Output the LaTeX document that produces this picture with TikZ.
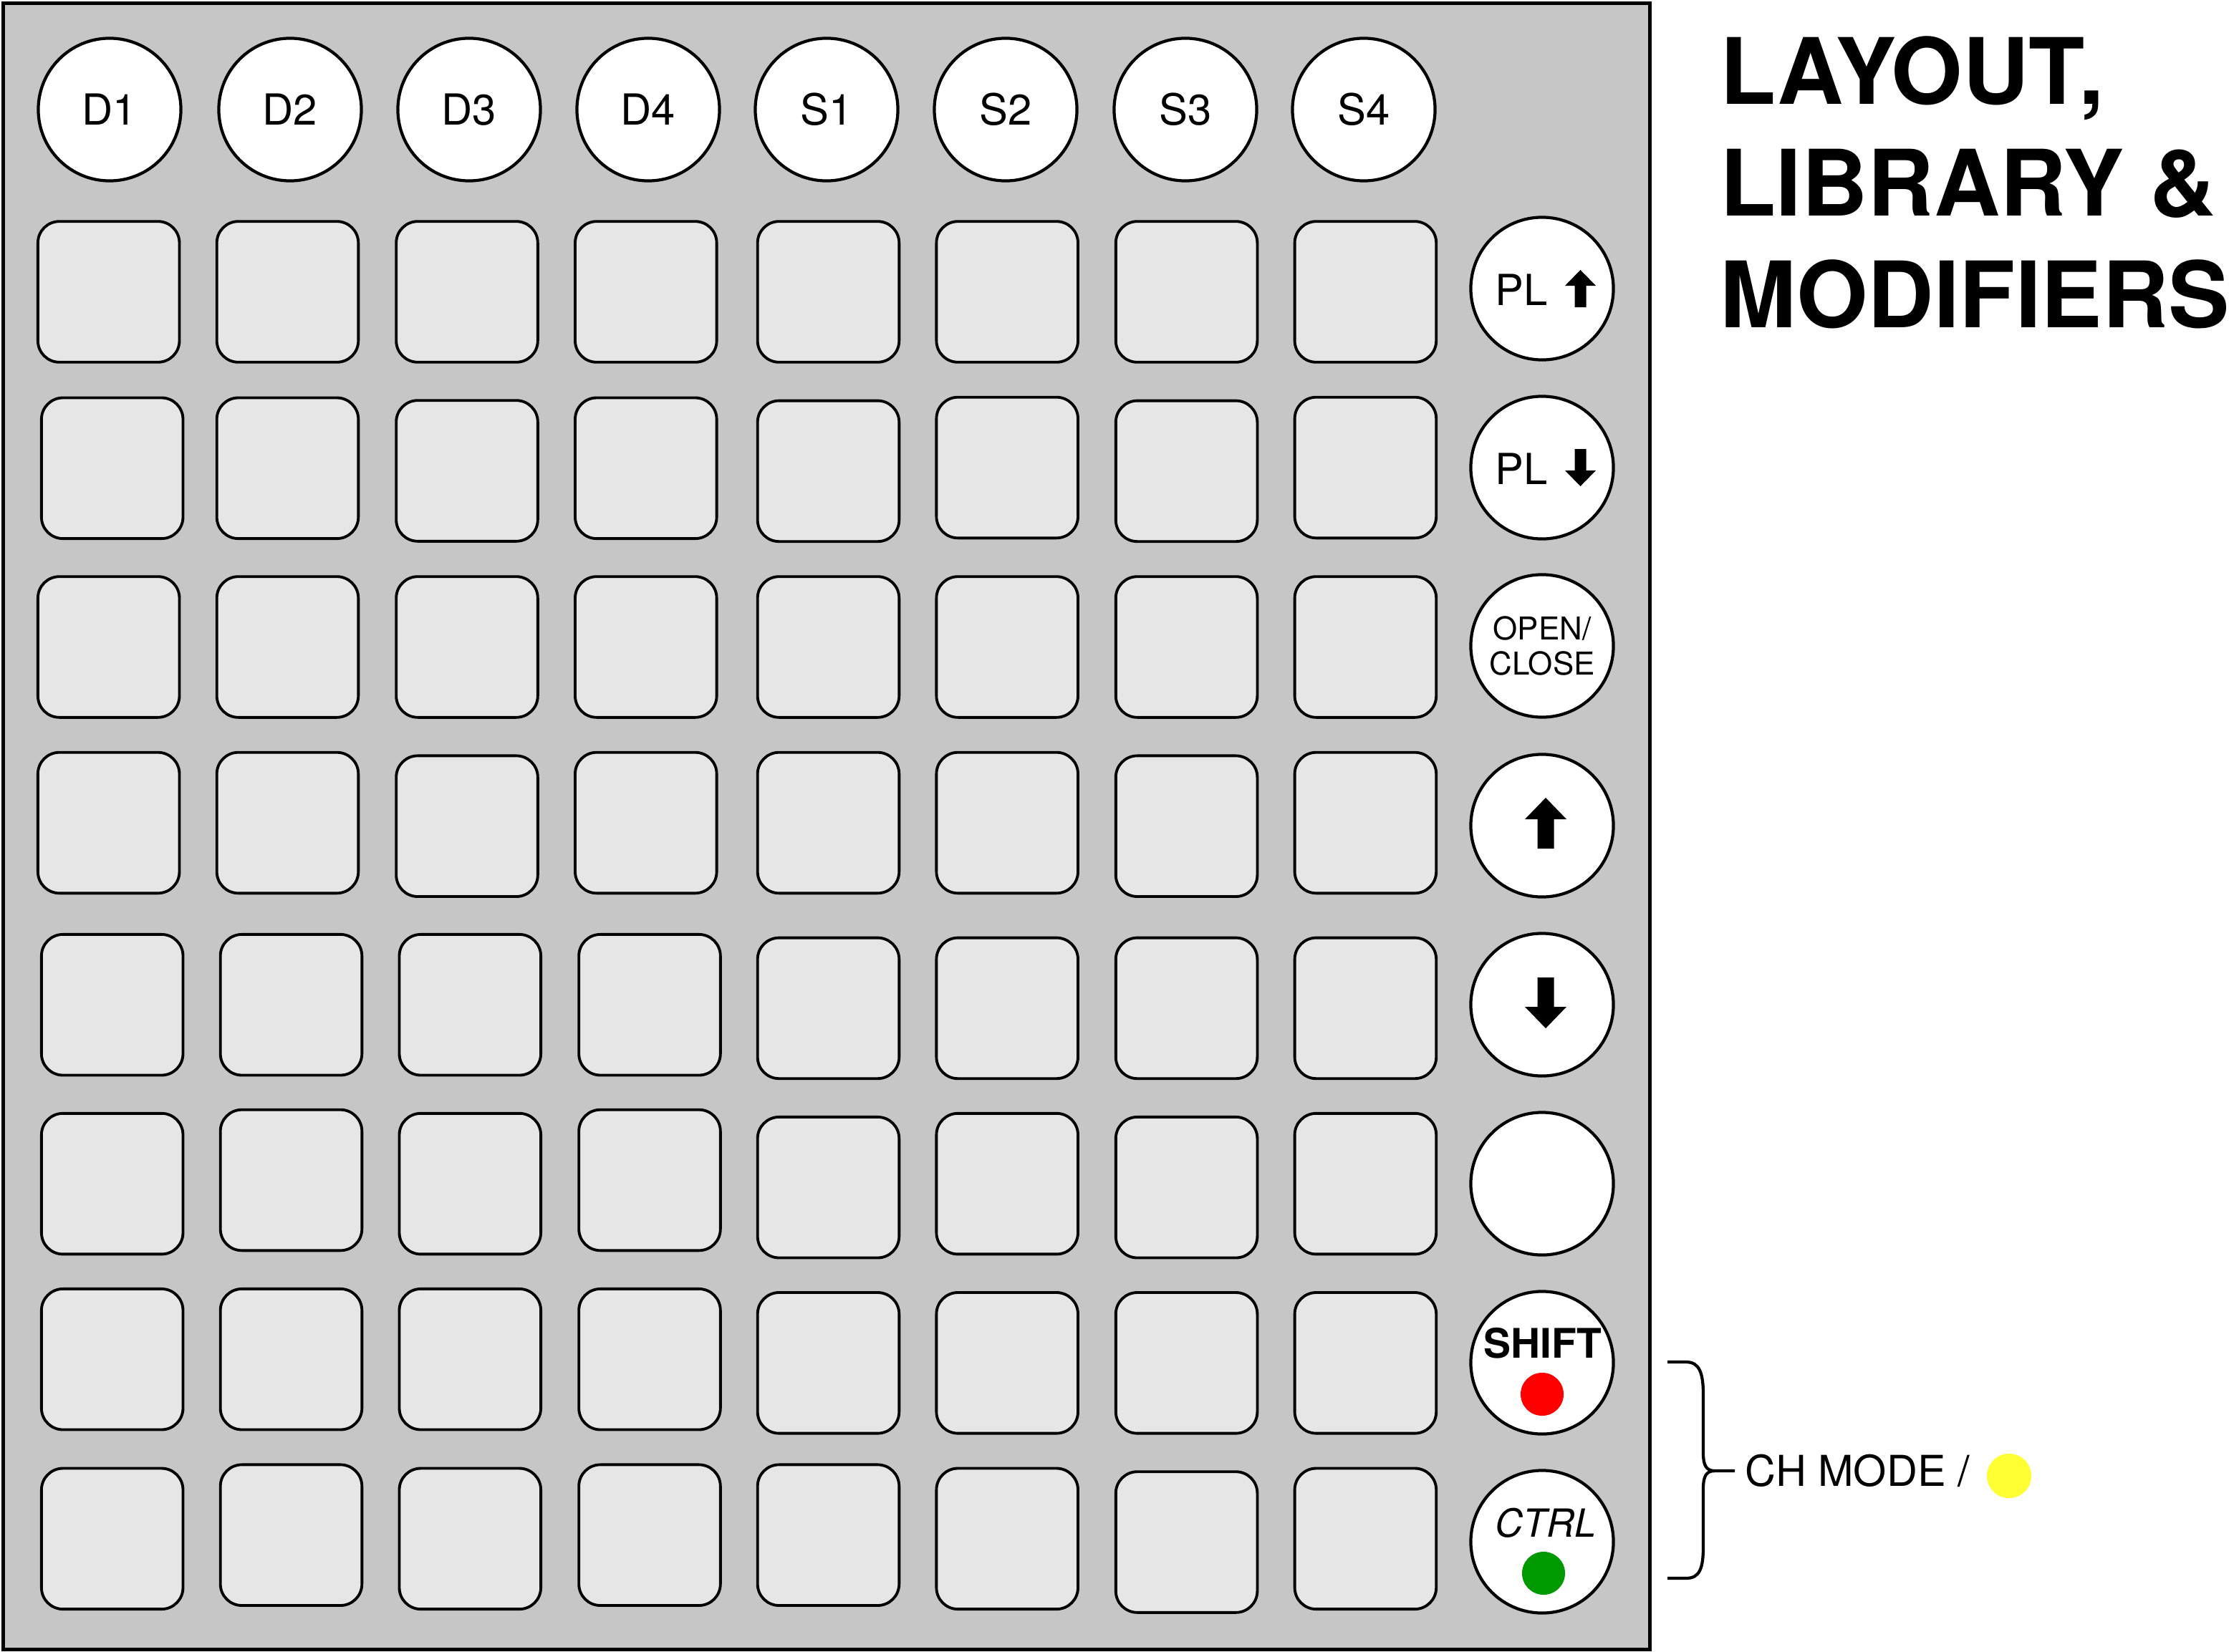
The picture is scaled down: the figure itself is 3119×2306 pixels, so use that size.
\documentclass[tikz,border=0pt]{standalone}
\usepackage{fontspec}
\setmainfont{TeX Gyre Heros}
\definecolor{panelgray}{RGB}{198,198,198}
\definecolor{padgray}{RGB}{230,230,230}
\definecolor{ledred}{RGB}{255,0,0}
\definecolor{ledgreen}{RGB}{0,153,0}
\definecolor{ledyellow}{RGB}{255,255,51}
\begin{document}
\begin{tikzpicture}[x=0.01cm,y=-0.01cm,
  panelbox/.style={draw,fill=panelgray,line width=1.42pt},
  padbox/.style={draw,fill=padgray,rectangle,rounded corners=0.3cm,minimum width=1.975cm,minimum height=1.965cm,inner sep=0pt,line width=1.1pt},
  rbtn/.style={draw,fill=white,circle,minimum size=1.99cm,inner sep=0pt,line width=1.2pt},
  lbl/.style={font=\fontsize{17}{20}\selectfont,inner sep=0pt},
  led/.style={circle,inner sep=0pt,minimum size=0.6cm},
  arrowfill/.style={fill=black},
  bracestyle/.style={draw,line width=1.2pt},
  titlefont/.style={font=\fontsize{36.4}{44}\selectfont\bfseries,inner sep=0pt,anchor=base west}
]
\useasboundingbox (0,0) rectangle (3119,2306);
\fill[white] (0,0) rectangle (3119,2306);
% panel
\draw[panelbox] (4.5,4.5) rectangle (2303,2303);

% top round buttons
\foreach \nm/\xx in {D1/153,D2/405,D3/655,D4/905,S1/1154,S2/1404,S3/1655,S4/1904}
  \node[rbtn,lbl] (top\nm) at (\xx,153) {\nm};

% pads
\foreach \c/\xx/\yy in {1/151.7/407.5,2/401.5/407.5,3/652/407.5,4/901.8/407.5,5/1156.5/407.5,6/1406.2/407.5,7/1656.6/407.5,8/1906.4/407.5}
  \node[padbox] (p1-\c) at (\xx,\yy) {};
\foreach \c/\xx/\yy in {1/156.7/653.8,2/401.5/653.8,3/652/657.5,4/901.8/653.8,5/1156.5/657.9,6/1406.2/653,7/1656.6/657.9,8/1906.4/653}
  \node[padbox] (p2-\c) at (\xx,\yy) {};
\foreach \c/\xx/\yy in {1/151.7/903.5,2/401.5/903.5,3/652/903.5,4/901.8/903.5,5/1156.5/903.5,6/1406.2/903.5,7/1656.6/903.5,8/1906.4/903.5}
  \node[padbox] (p3-\c) at (\xx,\yy) {};
\foreach \c/\xx/\yy in {1/151.7/1149,2/401.5/1149,3/652/1153.7,4/901.8/1149,5/1156.5/1149,6/1406.2/1149,7/1656.6/1153.7,8/1906.4/1149}
  \node[padbox] (p4-\c) at (\xx,\yy) {};
\foreach \c/\xx/\yy in {1/156.7/1403.2,2/406.5/1403.2,3/656.3/1403.2,4/907/1403.2,5/1156.5/1407.9,6/1406.2/1407.9,7/1656.6/1407.9,8/1906.4/1407.9}
  \node[padbox] (p5-\c) at (\xx,\yy) {};
\foreach \c/\xx/\yy in {1/156.7/1653.1,2/406.5/1648,3/656.3/1653.1,4/907/1648,5/1156.5/1658.2,6/1406.2/1653.1,7/1656.6/1658.2,8/1906.4/1653.1}
  \node[padbox] (p6-\c) at (\xx,\yy) {};
\foreach \c/\xx/\yy in {1/156.7/1898.2,2/406.5/1898.2,3/656.3/1898.2,4/907/1898.2,5/1156.5/1903.3,6/1406.2/1903.3,7/1656.6/1903.3,8/1906.4/1903.3}
  \node[padbox] (p7-\c) at (\xx,\yy) {};
\foreach \c/\xx/\yy in {1/156.7/2148.8,2/406.5/2143.7,3/656.3/2148.8,4/907/2143.7,5/1156.5/2143.7,6/1406.2/2148.8,7/1656.6/2153.5,8/1906.4/2148.8}
  \node[padbox] (p8-\c) at (\xx,\yy) {};

% right column buttons
\node[rbtn] (plup) at (2153,403) {};
\node[rbtn] (pldown) at (2153,653) {};
\node[rbtn,align=center,font=\fontsize{12.5}{13.9}\selectfont] (openclose) at (2153,902) {OPEN/\\CLOSE};
\node[rbtn] (up) at (2153,1153) {};
\node[rbtn] (down) at (2153,1403) {};
\node[rbtn] (blank) at (2153,1653) {};
\node[rbtn] (shift) at (2153,1903) {};
\node[rbtn] (ctrl) at (2153,2153) {};

% PL up
\node[lbl] (plupt) at (2124.5,404.5) {PL};
\fill[arrowfill] (2206.5,377) -- (2228,399) -- (2214.5,399) -- (2214.5,429) -- (2198.5,429) -- (2198.5,399) -- (2185,399) -- cycle;
% PL down
\node[lbl] (pldownt) at (2124.5,654.5) {PL};
\fill[arrowfill] (2206.5,679) -- (2228,657) -- (2214.5,657) -- (2214.5,627) -- (2198.5,627) -- (2198.5,657) -- (2185,657) -- cycle;
% big up
\fill[arrowfill] (2158,1114) -- (2187,1144) -- (2169.5,1144) -- (2169.5,1185) -- (2146.5,1185) -- (2146.5,1144) -- (2129,1144) -- cycle;
% big down
\fill[arrowfill] (2158,1436) -- (2187,1406) -- (2169.5,1406) -- (2169.5,1365) -- (2146.5,1365) -- (2146.5,1406) -- (2129,1406) -- cycle;

% SHIFT / CTRL
\node[inner sep=0pt,font=\fontsize{16.2}{20}\selectfont\bfseries] (shiftt) at (2153.5,1876) {SHIFT};
\node[led,fill=ledred] (shiftled) at (2153,1947) {};
\node[inner sep=0pt,font=\fontsize{15.4}{18}\selectfont\itshape] (ctrlt) at (2158,2126.5) {CTRL};
\node[led,fill=ledgreen] (ctrlled) at (2155,2197) {};

% title
\node[titlefont] (title1) at (2401,146) {LAYOUT,};
\node[titlefont] (title2) at (2401,301) {LIBRARY \&};
\node[titlefont] (title3) at (2401,457) {MODIFIERS};

% brace and CH MODE label
\coordinate (btop) at (2328,1902);
\coordinate (bbot) at (2328,2204);
\coordinate (bjoin) at (2394,2054);
\coordinate (btip) at (2422,2054);
\draw[bracestyle] (btop) -- (2354,1902) .. controls (2373,1902) and (2378,1918) .. (2378,1948) -- (2378,2030) .. controls (2378,2046) and (2382,2054) .. (bjoin) -- (btip);
\draw[bracestyle] (bjoin) .. controls (2382,2054) and (2378,2062) .. (2378,2078) -- (2378,2160) .. controls (2378,2190) and (2373,2204) .. (2354,2204) -- (bbot);
\node[inner sep=0pt,anchor=base west,font=\fontsize{16.9}{20}\selectfont] (chmode) at (2436,2075) {CH MODE /};
\node[led,fill=ledyellow,minimum size=0.62cm] (chled) at (2805,2061) {};
\end{tikzpicture}
\end{document}
